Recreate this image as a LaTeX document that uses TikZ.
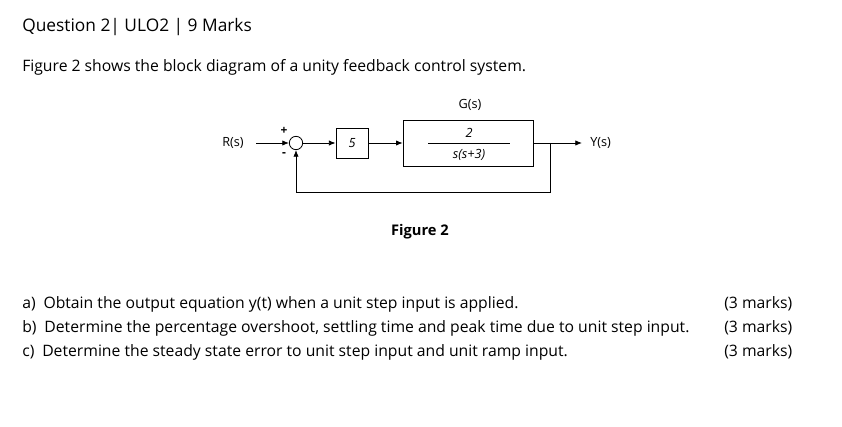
\documentclass[tikz,border=0pt]{standalone}
\usepackage{fontspec}
\setmainfont{Open Sans}
\usetikzlibrary{arrows.meta,positioning}
\begin{document}
\begin{tikzpicture}[x=0.75pt,y=-0.75pt,
    every node/.style={inner sep=0pt},
    blk/.style={draw,line width=0.7pt},
    sig/.style={line width=0.6pt,-{Latex[length=5pt,width=4pt]}},
    txt/.style={font=\fontsize{13}{15}\selectfont,anchor=west},
    qtxt/.style={font=\fontsize{11.8}{14}\selectfont,anchor=west},
    lbl/.style={font=\fontsize{9.5}{11}\selectfont}]
\useasboundingbox (0,0) rectangle (842,427);
% texts
\node[txt] (title) at (22,27) {Question 2| ULO2 | 9 Marks};
\node[qtxt] (intro) at (22,67) {Figure 2 shows the block diagram of a unity feedback control system.};
\node[font=\bfseries\fontsize{11}{13}\selectfont] (fig) at (420,232) {Figure 2};
\node[qtxt] (qa) at (22,304) {a)\enspace Obtain the output equation y(t) when a unit step input is applied.};
\node[qtxt] (qb) at (22,328) {b)\enspace Determine the percentage overshoot, settling time and peak time due to unit step input.};
\node[qtxt] (qc) at (22,352) {c)\enspace Determine the steady state error to unit step input and unit ramp input.};
\node[qtxt] (ma) at (724,304) {(3 marks)};
\node[qtxt] (mb) at (724,328) {(3 marks)};
\node[qtxt] (mc) at (724,352) {(3 marks)};
% diagram
\node[lbl] (R) at (233,143) {R(s)};
\node[draw,circle,minimum size=10pt,line width=0.6pt] (sum) at (296,143) {};
\node[lbl,font=\bfseries\fontsize{9}{11}\selectfont] (plus) at (284,131) {+};
\node[lbl,font=\bfseries\fontsize{9}{11}\selectfont] (minus) at (284,155) {-};
\node[blk,minimum width=24pt,minimum height=22.5pt,lbl] (K) at (352,143) {\itshape 5};
\node[blk,minimum width=98pt,minimum height=34.5pt] (G) at (468.5,143) {};
\node[lbl] (Glbl) at (470,105) {G(s)};
\node[lbl] (num) at (469,133) {\itshape 2};
\node[lbl] (den) at (469,155) {\itshape s(s+3)};
\draw[line width=0.6pt] (428,143) -- (510,143);
\coordinate (br) at (550,143);
\coordinate (fb) at (550,192);
\node[lbl,anchor=west,inner xsep=6pt] (Y) at (582,143) {Y(s)};
\draw[sig] (256,143) -- (sum);
\draw[sig] (sum) -- (K);
\draw[sig] (K) -- (G);
\draw[sig] (G) -- (Y);
\draw[line width=0.6pt,-{Latex[length=5pt,width=4pt]}] (br) -- (fb) -| (sum);
\end{tikzpicture}
\end{document}
